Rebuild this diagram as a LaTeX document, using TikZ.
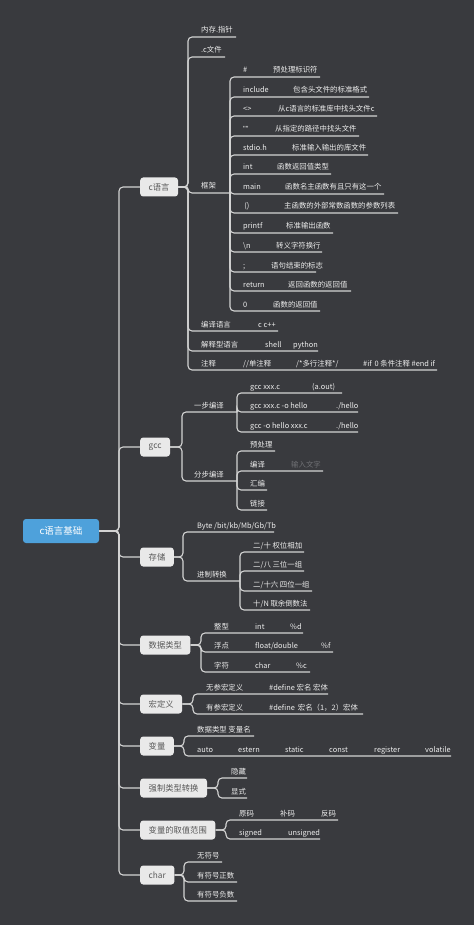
\documentclass[tikz,border=0pt]{standalone}
\usepackage{fontspec}
\setmainfont{Noto Sans CJK SC}
\newfontfamily\quotefont{Liberation Sans}
\definecolor{canvas}{RGB}{57,58,62}
\definecolor{rootblue}{RGB}{78,161,219}
\definecolor{topicfill}{RGB}{233,233,233}
\definecolor{topictext}{RGB}{88,88,88}
\definecolor{wire}{RGB}{212,212,212}
\definecolor{leaftext}{RGB}{238,238,238}
\definecolor{hinttext}{RGB}{112,113,117}
\tikzset{
  root/.style={rounded corners=3pt, fill=rootblue, text=white,
    font=\fontsize{9.5}{11}\selectfont, minimum width=76pt, minimum height=24pt, inner sep=0pt},
  topic/.style={rounded corners=3pt, fill=topicfill, text=topictext, anchor=west,
    font=\fontsize{8.3}{10}\selectfont, minimum height=19pt, inner xsep=8.5pt, inner ysep=0pt},
  leaf/.style={text=leaftext, font=\fontsize{7.4}{9}\selectfont, anchor=base west,
    inner sep=0pt, yshift=4pt},
  hint/.style={leaf, text=hinttext},
  branch/.style={draw=wire, line width=1.1pt, rounded corners=4pt}
}

\begin{document}
\begin{tikzpicture}[x=1pt,y=-1pt]
  \fill[canvas] (0,0) rectangle (474,925);
  \useasboundingbox (0,0) rectangle (474,925);
  % root and main topics
  \node[root] (base) at (61,531) {c语言基础};
  \node[topic] (clang) at (140,187) {c语言};
  \node[topic] (gcc) at (140,447) {gcc};
  \node[topic] (store) at (140,557) {存储};
  \node[topic] (dtype) at (140,645) {数据类型};
  \node[topic] (macro) at (140,704) {宏定义};
  \node[topic] (var) at (140,746) {变量};
  \node[topic] (cast) at (140,788) {强制类型转换};
  \node[topic] (range) at (140,830) {变量的取值范围};
  \node[topic] (chr) at (140,875) {char};
  \foreach \t in {clang,gcc,store,dtype,macro,var,cast,range,chr} {
    \draw[branch] (base.east) -- (119,531) |- (\t.west);
  }

  % c语言
  \foreach \k/\y/\e/\a in {mem/37/236/{内存.指针}, cfile/57/225/{.c文件}, frame/193/230/{框架},
      complang/331/278/{编译语言}, interp/351/318/{解释型语言}, note/370/437/{注释}} {
    \node[leaf] (\k) at (201,\y) {\a};
    \coordinate (\k-e) at (\e,\y);
    \draw[branch] (clang.east) -- (188,187) |- (\k-e);
  }
  \node[leaf] (complang-d) at (258,331) {c c++};
  \node[leaf] (interp-d) at (265,351) {shell};
  \node[leaf] (interp-d2) at (293,351) {python};
  \node[leaf] (note-d) at (243,370) {//单注释};
  \node[leaf] (note-d2) at (296,370) {/*多行注释*/};
  \node[leaf] (note-d3) at (363,370) {\#if\, 0 条件注释 \#end if};

  % 框架
  \foreach \k/\y/\e/\a/\bx/\b in {hash/77/320/{\#}/273/{预处理标识符},
      incl/97/369/{include}/293/{包含头文件的标准格式},
      angle/116/377/{<>}/278/{从c语言的标准库中找头文件c},
      quote/136/359/{{\quotefont ""}}/275/{从指定的路径中找头文件},
      stdio/155/368/{stdio.h}/292/{标准输入输出的库文件},
      int/174/331/{int}/277/{函数返回值类型},
      main/194/384/{main}/285/{函数名主函数有且只有这一个},
      paren/213/398/{\,()}/284/{主函数的外部常数函数的参数列表},
      printf/233/333/{printf}/286/{标准输出函数},
      newl/252/322/{\textbackslash n}/276/{转义字符换行},
      semi/272/316/{;}/271/{语句结束的标志},
      ret/291/351/{return}/288/{返回函数的返回值},
      zero/311/320/{0}/273/{函数的返回值}} {
    \node[leaf] (\k) at (243,\y) {\a};
    \node[leaf] (\k-d) at (\bx,\y) {\b};
    \coordinate (\k-e) at (\e,\y);
    \draw[branch] (frame-e) |- (\k-e);
  }

  % gcc
  \foreach \k/\y/\a in {onestep/412/{一步编译}, steps/481/{分步编译}} {
    \node[leaf] (\k) at (194,\y) {\a};
    \coordinate (\k-e) at (237,\y);
    \draw[branch] (gcc.east) -- (182,447) |- (\k-e);
  }
  \foreach \k/\y/\e/\a/\bx/\b in {g1/393/342/{gcc xxx.c}/312/{(a.out)},
      g2/412/358/{gcc xxx.c -o hello}/336/{./hello},
      g3/432/358/{gcc -o hello xxx.c}/336/{./hello}} {
    \node[leaf] (\k) at (250,\y) {\a};
    \node[leaf] (\k-d) at (\bx,\y) {\b};
    \coordinate (\k-e) at (\e,\y);
    \draw[branch] (onestep-e) |- (\k-e);
  }
  \foreach \k/\y/\e/\a in {pre/451/275/{预处理}, comp/471/323/{编译}, asm/490/267/{汇编}, link/510/267/{链接}} {
    \node[leaf] (\k) at (250,\y) {\a};
    \coordinate (\k-e) at (\e,\y);
    \draw[branch] (steps-e) |- (\k-e);
  }
  \node[hint] (comp-d) at (291,471) {输入文字};

  % 存储
  \node[leaf] (unit) at (197,532) {Byte /bit/kb/Mb/Gb/Tb};
  \node[leaf] (radix) at (197,581) {进制转换};
  \coordinate (unit-e) at (274,532);
  \coordinate (radix-e) at (240,581);
  \draw[branch] (store.east) -- (183,557) |- (unit-e);
  \draw[branch] (store.east) -- (183,557) |- (radix-e);
  \foreach \k/\y/\e/\a in {r1/552/304/{二/十 权位相加}, r2/571/304/{二/八 三位一组},
      r3/591/312/{二/十六 四位一组}, r4/610/310/{十/N 取余倒数法}} {
    \node[leaf] (\k) at (253,\y) {\a};
    \coordinate (\k-e) at (\e,\y);
    \draw[branch] (radix-e) |- (\k-e);
  }

  % 数据类型
  \foreach \k/\y/\e/\a/\b/\cx/\c in {t1/633/303/{整型}/{int}/290/{\%d},
      t2/652/333/{浮点}/{float/double}/321/{\%f},
      t3/672/310/{字符}/{char}/296/{\%c}} {
    \node[leaf] (\k) at (214,\y) {\a};
    \node[leaf] (\k-d) at (255,\y) {\b};
    \node[leaf] (\k-f) at (\cx,\y) {\c};
    \coordinate (\k-e) at (\e,\y);
    \draw[branch] (dtype.east) -- (201,645) |- (\k-e);
  }

  % 宏定义
  \foreach \k/\y/\e/\a/\b in {m1/694/328/{无参宏定义}/{\#define 宏名 宏体},
      m2/714/363/{有参宏定义}/{\#define\, 宏名（1，2）宏体}} {
    \node[leaf] (\k) at (206,\y) {\a};
    \node[leaf] (\k-d) at (269,\y) {\b};
    \coordinate (\k-e) at (\e,\y);
    \draw[branch] (macro.east) -- (193,704) |- (\k-e);
  }

  % 变量
  \node[leaf] (v1) at (197,736) {数据类型 变量名};
  \coordinate (v1-e) at (254,736);
  \coordinate (v2-e) at (451,756);
  \foreach \k/\x/\a in {auto/197/auto, estern/238/estern, static/285/static,
      const/329/const, register/374/register, volatile/425/volatile} {
    \node[leaf] (\k) at (\x,756) {\a};
  }
  \draw[branch] (var.east) -- (184,746) |- (v1-e);
  \draw[branch] (var.east) -- (184,746) |- (v2-e);

  % 强制类型转换
  \foreach \k/\y/\a in {c1/778/{隐藏}, c2/798/{显式}} {
    \node[leaf] (\k) at (231,\y) {\a};
    \coordinate (\k-e) at (247,\y);
    \draw[branch] (cast.east) -- (218,788) |- (\k-e);
  }

  % 变量的取值范围
  \node[leaf] (n1) at (239,820) {原码};
  \node[leaf] (n1-d) at (280,820) {补码};
  \node[leaf] (n1-f) at (321,820) {反码};
  \node[leaf] (n2) at (239,839) {signed};
  \node[leaf] (n2-d) at (288,839) {unsigned};
  \coordinate (n1-e) at (338,820);
  \coordinate (n2-e) at (320,839);
  \draw[branch] (range.east) -- (226,830) |- (n1-e);
  \draw[branch] (range.east) -- (226,830) |- (n2-e);

  % char
  \foreach \k/\y/\e/\a in {h1/862/222/{无符号}, h2/882/237/{有符号正数}, h3/901/237/{有符号负数}} {
    \node[leaf] (\k) at (197,\y) {\a};
    \coordinate (\k-e) at (\e,\y);
    \draw[branch] (chr.east) -- (184,875) |- (\k-e);
  }
\end{tikzpicture}
\end{document}
